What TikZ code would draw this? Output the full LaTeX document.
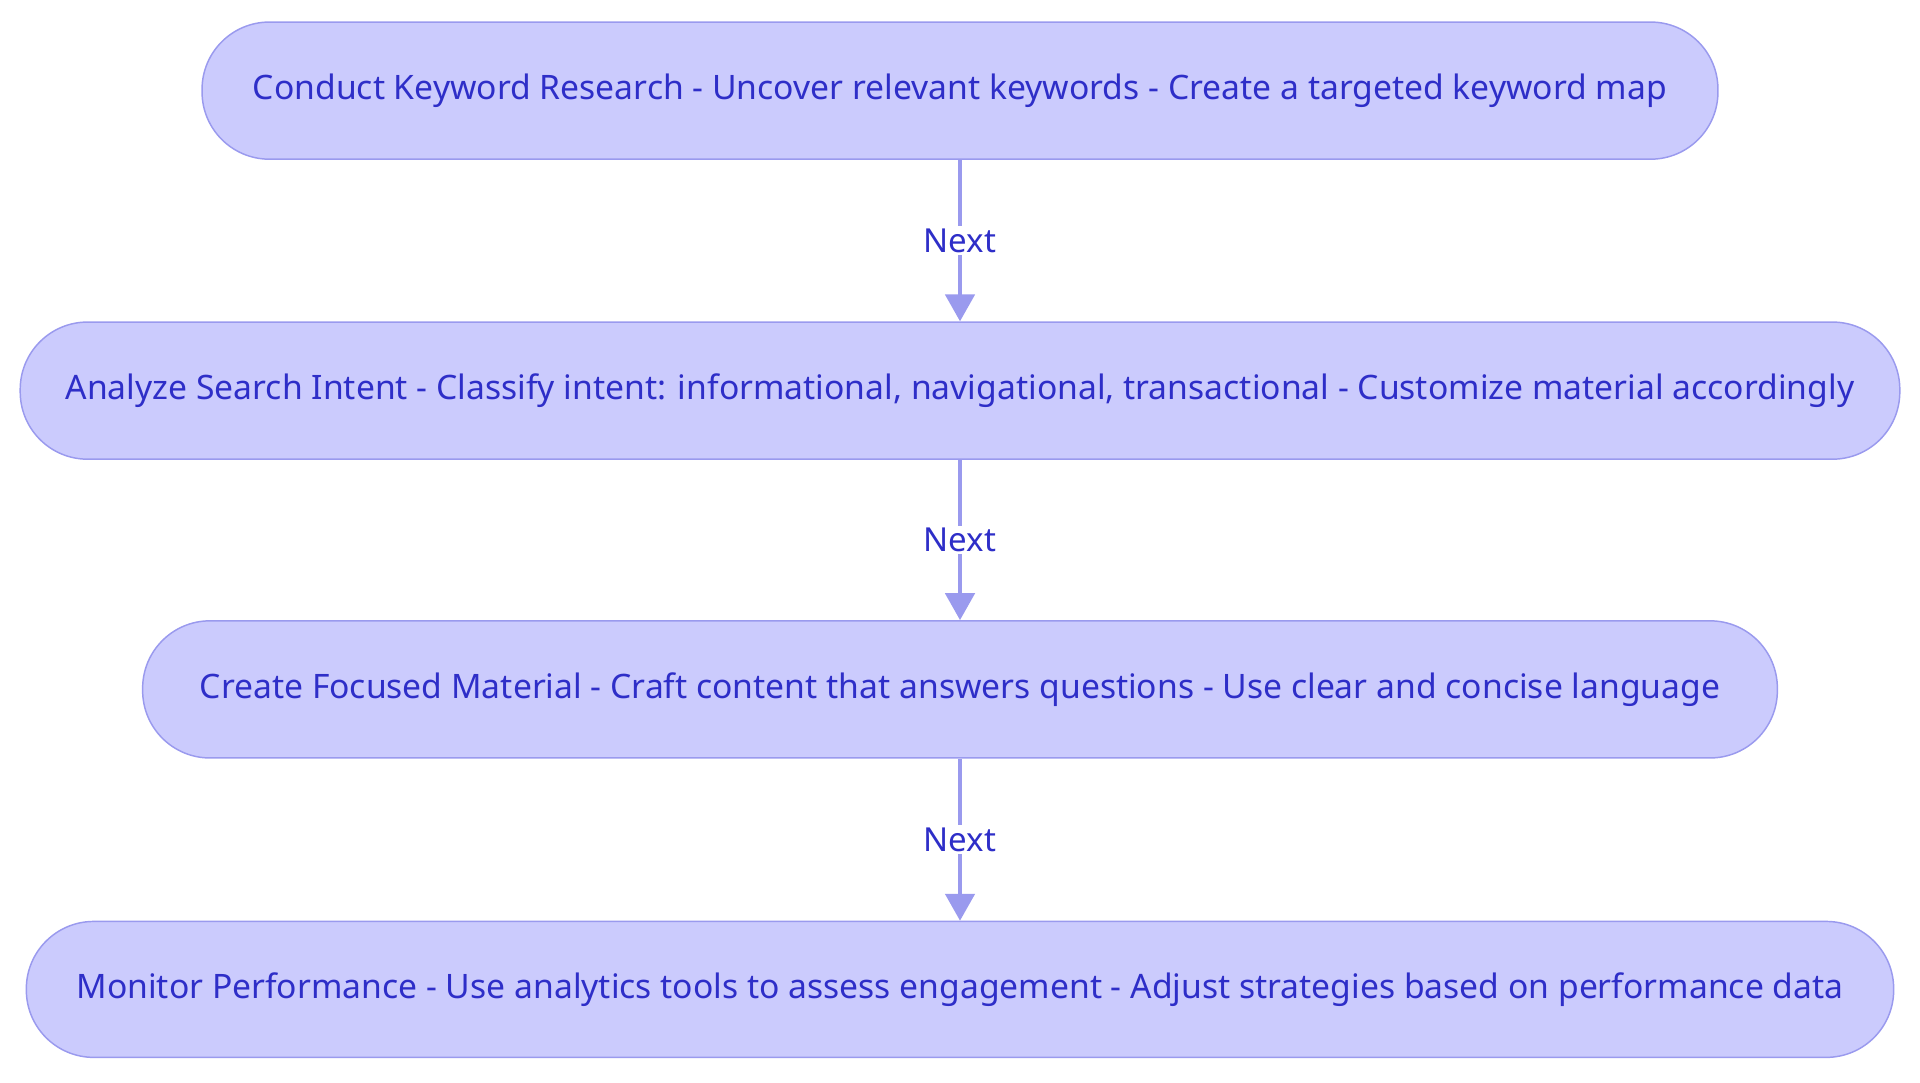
\documentclass[tikz,border=0pt]{standalone}
\usepackage{fontspec}
\setmainfont{Noto Sans}
\usetikzlibrary{arrows.meta}
\definecolor{fillc}{HTML}{CBCBFD}
\definecolor{linec}{HTML}{9A9AEE}
\definecolor{textc}{HTML}{2E2EC8}
\tikzset{
 stepbox/.style={draw=linec,line width=1.2pt,fill=fillc,rounded corners=55pt,inner sep=0pt,text=textc,font=\fontsize{27.5}{32}\selectfont},
 conn/.style={draw=linec,line width=3pt,-{Triangle[length=22pt,width=24pt]}},
 lab/.style={fill=white,text=textc,font=\fontsize{27}{32}\selectfont,inner sep=2pt}
}
\begin{document}
\begin{tikzpicture}[x=1pt,y=-1pt]
\useasboundingbox (0,0) rectangle (1568,884.4);
\node[stepbox,minimum width=1238pt,minimum height=112pt] (a) at (784,74) {Conduct Keyword Research - Uncover relevant keywords - Create a targeted keyword map};
\node[stepbox,minimum width=1535pt,minimum height=112pt] (b) at (784,319) {Analyze Search Intent - Classify intent: informational, navigational, transactional - Customize material accordingly};
\node[stepbox,minimum width=1335pt,minimum height=112pt] (c) at (784,563) {Create Focused Material - Craft content that answers questions - Use clear and concise language};
\node[stepbox,minimum width=1525pt,minimum height=111pt] (d) at (784,808) {Monitor Performance - Use analytics tools to assess engagement - Adjust strategies based on performance data};
\draw[conn] (a) -- node[lab]{Next} (b);
\draw[conn] (b) -- node[lab]{Next} (c);
\draw[conn] (c) -- node[lab]{Next} (d);
\end{tikzpicture}
\end{document}
